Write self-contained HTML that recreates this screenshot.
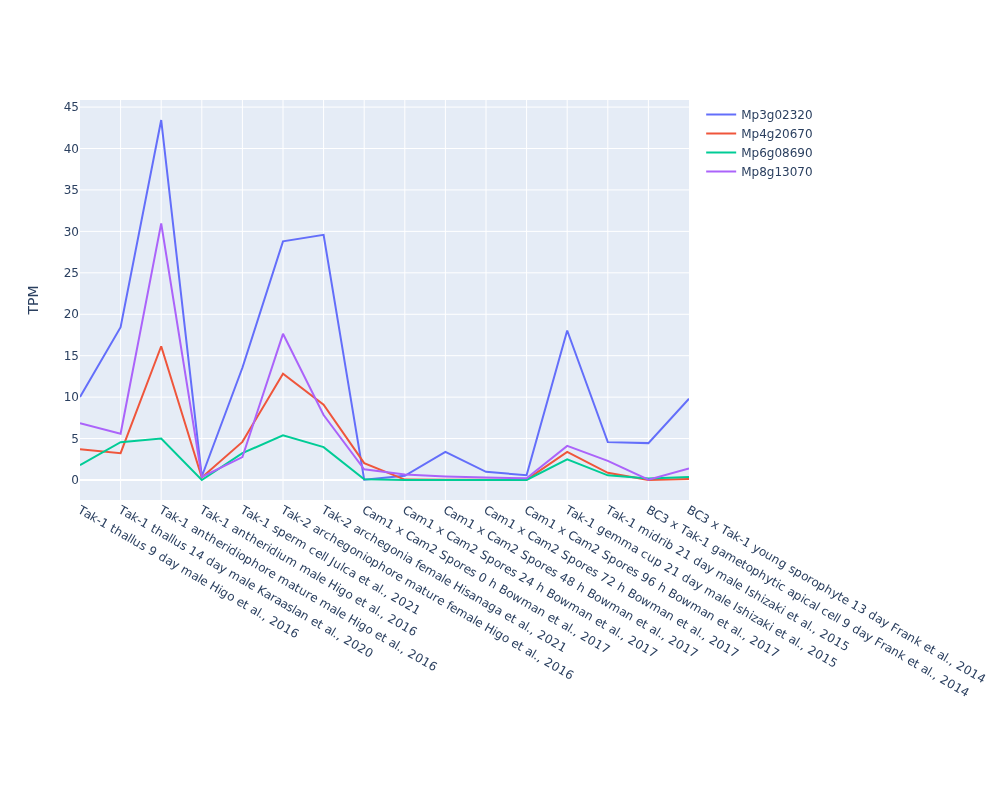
<!DOCTYPE html>
<html lang="en"><head><meta charset="utf-8"><title>TPM expression plot</title>
<style>html,body{margin:0;padding:0;background:#fff;}body{width:1000px;height:800px;overflow:hidden;}svg{display:block;}text{font-family:'DejaVu Sans', Verdana, 'Liberation Sans', sans-serif;fill:#2a3f5f;white-space:pre;font-kerning:none;}</style></head><body>
<svg width="1000" height="800" viewBox="0 0 1000 800">
<rect x="0" y="0" width="1000" height="800" fill="#ffffff"/>
<rect x="80" y="100" width="609" height="400" fill="#E5ECF6"/>
<g stroke="#ffffff" stroke-width="1" fill="none">
<path d="M120.60,100 v400"/>
<path d="M161.20,100 v400"/>
<path d="M201.80,100 v400"/>
<path d="M242.40,100 v400"/>
<path d="M283.00,100 v400"/>
<path d="M323.60,100 v400"/>
<path d="M364.20,100 v400"/>
<path d="M404.80,100 v400"/>
<path d="M445.40,100 v400"/>
<path d="M486.00,100 v400"/>
<path d="M526.60,100 v400"/>
<path d="M567.20,100 v400"/>
<path d="M607.80,100 v400"/>
<path d="M648.40,100 v400"/>
<path d="M80,438.56 h609"/>
<path d="M80,397.13 h609"/>
<path d="M80,355.69 h609"/>
<path d="M80,314.26 h609"/>
<path d="M80,272.82 h609"/>
<path d="M80,231.39 h609"/>
<path d="M80,189.95 h609"/>
<path d="M80,148.52 h609"/>
<path d="M80,107.08 h609"/>
</g>
<path d="M80,480.00 h609" stroke="#ffffff" stroke-width="2" fill="none"/>
<defs><clipPath id="plotclip"><rect x="80" y="100" width="609" height="400"/></clipPath></defs>
<g clip-path="url(#plotclip)" fill="none" stroke-width="2" stroke-miterlimit="2" stroke-linejoin="miter">
<path d="M80.00,396.96L120.60,327.19L161.20,120.01L201.80,476.52L242.40,367.79L283.00,241.33L323.60,234.79L364.20,479.75L404.80,475.86L445.40,451.82L486.00,471.80L526.60,475.28L567.20,330.50L607.80,442.13L648.40,443.12L689.00,398.79" stroke="#636efa"/>
<path d="M80.00,449.34L120.60,453.15L161.20,346.25L201.80,477.51L242.40,441.88L283.00,373.76L323.60,404.59L364.20,463.09L404.80,479.59L445.40,479.83L486.00,479.83L526.60,479.67L567.20,451.91L607.80,472.79L648.40,480.00L689.00,478.92" stroke="#EF553B"/>
<path d="M80.00,465.17L120.60,442.13L161.20,438.56L201.80,480.00L242.40,453.15L283.00,435.33L323.60,447.10L364.20,479.34L404.80,480.00L445.40,480.00L486.00,480.00L526.60,480.00L567.20,459.37L607.80,475.36L648.40,478.51L689.00,477.02" stroke="#00cc96"/>
<path d="M80.00,423.32L120.60,433.68L161.20,223.35L201.80,477.02L242.40,457.13L283.00,333.82L323.60,415.03L364.20,469.23L404.80,474.53L445.40,476.44L486.00,477.51L526.60,478.34L567.20,445.86L607.80,460.86L648.40,479.75L689.00,468.56" stroke="#ab63fa"/>
</g>
<g font-size="12">
<text text-anchor="start" x="0 7 14 21 25 33 37 42 50 57 60 63 71 77 81 89 93 101 108 115 119 131 138 141 148 152 161 164 172 179 183 190 195 199 206 209 213 217 221 229 237 245" y="513" transform="translate(80.00,0) rotate(30,0,507)">Tak-1 thallus 9 day male Higo et al., 2016</text>
<text text-anchor="start" x="0 7 14 21 25 33 37 42 50 57 60 63 71 77 81 89 97 101 109 116 123 127 139 146 149 156 160 168 175 180 187 194 200 203 210 218 222 229 234 238 245 248 252 256 260 268 276 284" y="513" transform="translate(120.60,0) rotate(30,0,507)">Tak-1 thallus 14 day male Karaaslan et al., 2020</text>
<text text-anchor="start" x="0 7 14 21 25 33 37 44 52 57 65 72 77 80 88 91 98 106 114 121 126 133 137 149 156 161 169 174 181 185 197 204 207 214 218 227 230 238 245 249 256 261 265 272 275 279 283 287 295 303 311" y="513" transform="translate(161.20,0) rotate(30,0,507)">Tak-1 antheridiophore mature male Higo et al., 2016</text>
<text text-anchor="start" x="0 7 14 21 25 33 37 44 52 57 65 72 77 80 88 91 99 111 115 127 134 137 144 148 157 160 168 175 179 186 191 195 202 205 209 213 217 225 233 241" y="513" transform="translate(201.80,0) rotate(30,0,507)">Tak-1 antheridium male Higo et al., 2016</text>
<text text-anchor="start" x="0 7 14 21 25 33 37 43 51 58 63 75 79 86 93 96 99 103 107 115 118 125 132 136 143 148 152 159 162 166 170 174 182 190 198" y="513" transform="translate(242.40,0) rotate(30,0,507)">Tak-1 sperm cell Julca et al., 2021</text>
<text text-anchor="start" x="0 7 14 21 25 33 37 44 49 56 64 71 79 86 94 97 104 112 120 127 132 139 143 155 162 167 175 180 187 191 195 202 214 221 224 231 235 244 247 255 262 266 273 278 282 289 292 296 300 304 312 320 328" y="513" transform="translate(283.00,0) rotate(30,0,507)">Tak-2 archegoniophore mature female Higo et al., 2016</text>
<text text-anchor="start" x="0 7 14 21 25 33 37 44 49 56 64 71 79 86 94 97 104 108 112 119 131 138 141 148 152 161 164 170 177 185 192 200 207 211 218 223 227 234 237 241 245 249 257 265 273" y="513" transform="translate(323.60,0) rotate(30,0,507)">Tak-2 archegonia female Hisanaga et al., 2021</text>
<text text-anchor="start" x="0 8 15 27 35 39 46 50 58 65 77 85 89 97 105 112 117 124 130 134 142 146 154 158 166 173 183 195 202 210 214 221 226 230 237 240 244 248 252 260 268 276" y="513" transform="translate(364.20,0) rotate(30,0,507)">Cam1 x Cam2 Spores 0 h Bowman et al., 2017</text>
<text text-anchor="start" x="0 8 15 27 35 39 46 50 58 65 77 85 89 97 105 112 117 124 130 134 142 150 154 162 166 174 181 191 203 210 218 222 229 234 238 245 248 252 256 260 268 276 284" y="513" transform="translate(404.80,0) rotate(30,0,507)">Cam1 x Cam2 Spores 24 h Bowman et al., 2017</text>
<text text-anchor="start" x="0 8 15 27 35 39 46 50 58 65 77 85 89 97 105 112 117 124 130 134 142 150 154 162 166 174 181 191 203 210 218 222 229 234 238 245 248 252 256 260 268 276 284" y="513" transform="translate(445.40,0) rotate(30,0,507)">Cam1 x Cam2 Spores 48 h Bowman et al., 2017</text>
<text text-anchor="start" x="0 8 15 27 35 39 46 50 58 65 77 85 89 97 105 112 117 124 130 134 142 150 154 162 166 174 181 191 203 210 218 222 229 234 238 245 248 252 256 260 268 276 284" y="513" transform="translate(486.00,0) rotate(30,0,507)">Cam1 x Cam2 Spores 72 h Bowman et al., 2017</text>
<text text-anchor="start" x="0 8 15 27 35 39 46 50 58 65 77 85 89 97 105 112 117 124 130 134 142 150 154 162 166 174 181 191 203 210 218 222 229 234 238 245 248 252 256 260 268 276 284" y="513" transform="translate(526.60,0) rotate(30,0,507)">Cam1 x Cam2 Spores 96 h Bowman et al., 2017</text>
<text text-anchor="start" x="0 7.03 14.06 21.08 25.1 33.13 37.15 45.18 52.21 64.26 76.3 83.33 87.35 94.38 102.41 110.44 114.46 122.49 130.52 134.54 142.57 149.6 156.62 160.64 172.69 179.72 182.73 189.76 193.77 197.79 203.81 211.84 214.86 220.88 227.91 234.94 237.95 241.96 248.99 254.01 258.03 265.06 268.07 272.08 276.1 280.12 288.15 296.18 304.21" y="513" transform="translate(567.20,0) rotate(30,0,507)">Tak-1 gemma cup 21 day male Ishizaki et al., 2015</text>
<text text-anchor="start" x="0 7.06 14.12 21.18 25.21 33.28 37.32 49.42 52.45 60.52 65.56 68.58 76.65 80.69 88.76 96.83 100.86 108.93 115.99 123.05 127.08 139.19 146.25 149.27 156.33 160.37 164.4 170.45 178.52 181.55 187.6 194.66 201.72 204.75 208.78 215.84 220.88 224.92 231.98 235 239.04 243.07 247.11 255.18 263.24 271.31" y="513" transform="translate(607.80,0) rotate(30,0,507)">Tak-1 midrib 21 day male Ishizaki et al., 2015</text>
<text text-anchor="start" x="0 7.95 15.9 23.86 27.83 34.79 38.77 45.72 52.68 59.64 63.62 71.57 75.54 83.5 90.45 102.38 109.34 114.31 121.27 129.22 137.17 144.13 149.1 152.08 159.04 163.02 169.97 177.93 180.91 187.87 194.82 197.81 201.78 208.74 215.7 218.68 221.66 225.64 233.59 237.57 245.52 252.48 259.43 263.41 270.37 275.34 282.3 290.25 297.21 301.18 308.14 313.11 317.09 324.04 327.03 331 334.98 338.95 346.91 354.86 362.81" y="513" transform="translate(648.40,0) rotate(30,0,507)">BC3 x Tak-1 gametophytic apical cell 9 day Frank et al., 2014</text>
<text text-anchor="start" x="0 7.97 15.95 23.92 27.91 34.88 38.87 45.85 52.83 59.8 63.79 71.76 75.75 82.73 89.7 97.68 105.65 113.62 117.61 123.59 131.56 138.54 143.52 150.5 158.48 166.45 173.43 178.41 185.39 189.37 197.35 205.32 209.31 217.28 224.26 231.23 235.22 242.2 247.18 254.16 262.13 269.11 273.1 280.07 285.06 289.04 296.02 299.01 303 306.98 310.97 318.94 326.92 334.89" y="513" transform="translate(689.00,0) rotate(30,0,507)">BC3 x Tak-1 young sporophyte 13 day Frank et al., 2014</text>
</g>
<g font-size="12">
<text text-anchor="end" x="79" y="4.2" transform="translate(0,480.00)">0</text>
<text text-anchor="end" x="79" y="4.2" transform="translate(0,438.56)">5</text>
<text text-anchor="end" x="79" y="4.2" transform="translate(0,397.13)">10</text>
<text text-anchor="end" x="79" y="4.2" transform="translate(0,355.69)">15</text>
<text text-anchor="end" x="79" y="4.2" transform="translate(0,314.26)">20</text>
<text text-anchor="end" x="79" y="4.2" transform="translate(0,272.82)">25</text>
<text text-anchor="end" x="79" y="4.2" transform="translate(0,231.39)">30</text>
<text text-anchor="end" x="79" y="4.2" transform="translate(0,189.95)">35</text>
<text text-anchor="end" x="79" y="4.2" transform="translate(0,148.52)">40</text>
<text text-anchor="end" x="79" y="4.2" transform="translate(0,107.08)">45</text>
</g>
<text font-size="14" text-anchor="middle" x="0" y="0" transform="translate(38.3,300) rotate(-90)">TPM</text>
<g font-size="12">
<path d="M706.18,114.50 h30" stroke="#636efa" stroke-width="2" fill="none"/>
<text text-anchor="start" x="741.18" y="119.18">Mp3g02320</text>
<path d="M706.18,133.50 h30" stroke="#EF553B" stroke-width="2" fill="none"/>
<text text-anchor="start" x="741.18" y="138.18">Mp4g20670</text>
<path d="M706.18,152.50 h30" stroke="#00cc96" stroke-width="2" fill="none"/>
<text text-anchor="start" x="741.18" y="157.18">Mp6g08690</text>
<path d="M706.18,171.50 h30" stroke="#ab63fa" stroke-width="2" fill="none"/>
<text text-anchor="start" x="741.18" y="176.18">Mp8g13070</text>
</g>
</svg></body></html>
